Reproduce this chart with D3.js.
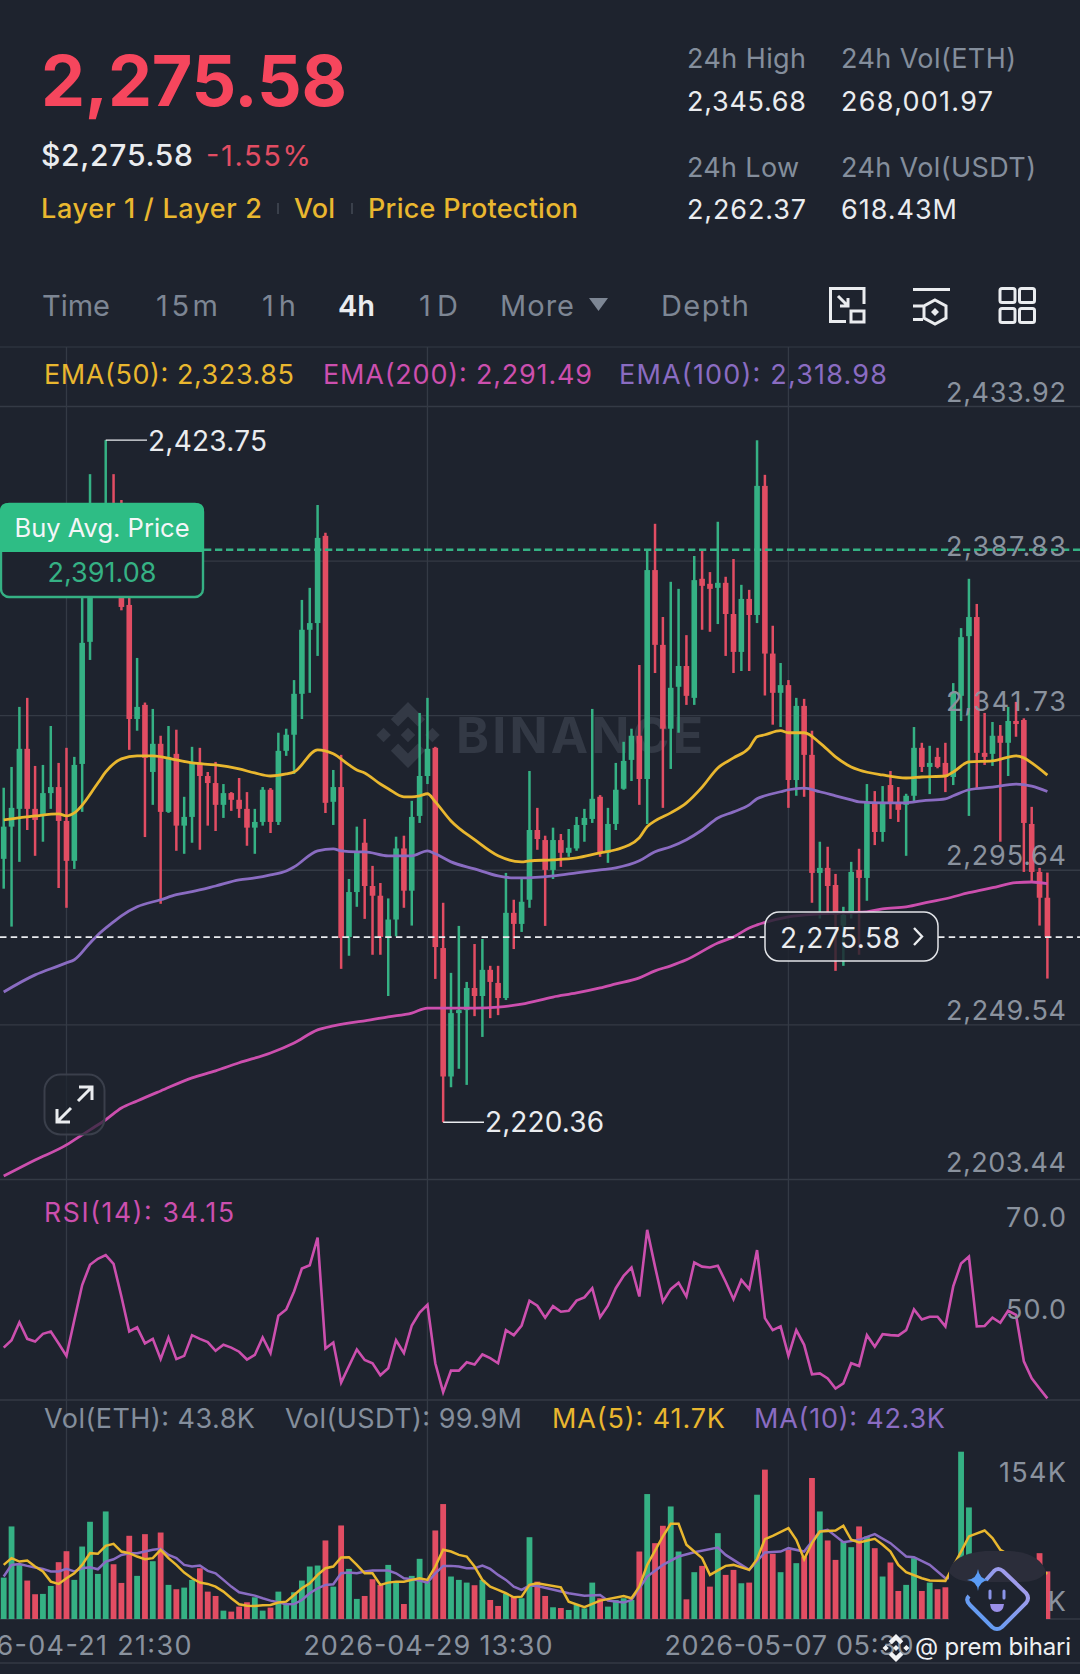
<!DOCTYPE html>
<html>
<head>
<meta charset="utf-8">
<script src="https://cdn.jsdelivr.net/npm/d3@7"></script>
<style>
	html, body { margin: 0; padding: 0; background: #1e232e; }
	svg { display: block; }
	text { font-family: Inter, "Noto Sans", sans-serif; }
	.axis path { display: none; }
	.grid line { stroke: #343a45; stroke-width: 1.3; }
	.grid text { display: none; }
	.labels line { display: none; }
	.labels text { fill: #8a929e; font-size: 27px; font-family: Inter, sans-serif; }
</style>
</head>
<body>
<div id="chart"></div>
<script>
// candles, one entry per 4h bar
const candleOpen = [
	2298.9,2308.5,2313.8,2331.7,2313.8,2312.0,2318.5,2320.3,2310.2,2298.3,
	2327.2,2363.6,2385.0,2385.0,2400.0,2397.0,2374.6,2340.6,2344.8,2324.8,
	2333.2,2312.9,2330.2,2308.8,2311.4,2327.5,2323.6,2321.5,2315.0,2318.5,
	2316.5,2313.8,2308.2,2309.9,2319.5,2309.9,2331.1,2335.9,2348.1,2367.2,
	2369.2,2395.2,2315.9,2320.3,2275.6,2289.0,2303.7,2290.8,2287.9,2275.6,
	2280.8,2302.0,2289.4,2311.7,2323.6,2332.0,2272.3,2234.0,2252.9,2253.8,
	2260.4,2258.0,2265.8,2261.9,2257.4,2282.8,2279.5,2286.7,2307.5,2304.5,
	2295.6,2304.5,2300.7,2302.0,2309.0,2310.8,2317.4,2300.7,2309.3,2319.8,
	2328.4,2335.6,2322.7,2385.0,2362.7,2337.7,2350.2,2356.4,2346.9,2382.4,
	2380.9,2379.7,2381.2,2371.9,2360.6,2376.4,2371.6,2410.1,2360.1,2348.4,
	2350.7,2322.4,2344.5,2329.9,2294.7,2296.2,2291.1,2279.0,2282.8,2295.6,
	2293.2,2315.6,2306.9,2320.9,2315.6,2315.0,2317.7,2332.0,2326.3,2329.3,
	2327.5,2323.3,2347.5,2365.3,2371.0,2330.5,2330.2,2335.6,2333.5,2340.0,
	2340.3,2309.3,2295.0,2287.3];
const candleHigh = [
	2320.1,2326.3,2344.2,2346.9,2326.6,2326.9,2338.5,2327.5,2332.0,2329.3,
	2379.1,2413.6,2397.0,2423.75,2413.6,2405.9,2376.7,2358.8,2345.5,2343.6,
	2335.6,2338.5,2337.4,2317.4,2332.3,2332.0,2324.8,2327.8,2321.2,2318.8,
	2323.0,2318.8,2313.8,2320.3,2320.0,2336.5,2337.7,2352.2,2376.1,2379.7,
	2404.4,2396.1,2325.4,2329.9,2292.9,2308.5,2310.8,2296.8,2291.7,2287.1,
	2305.5,2305.8,2316.2,2342.4,2346.9,2332.3,2285.8,2264.9,2278.9,2262.2,
	2273.5,2275.0,2267.0,2267.0,2294.7,2286.7,2292.9,2325.1,2314.1,2305.8,
	2308.2,2306.3,2307.8,2311.4,2313.8,2343.6,2317.9,2314.1,2327.5,2333.8,
	2337.7,2356.7,2391.0,2398.8,2371.0,2381.5,2379.4,2365.6,2389.2,2390.7,
	2384.4,2399.4,2383.0,2388.3,2380.6,2379.1,2423.7,2413.4,2368.4,2357.3,
	2352.2,2346.9,2346.6,2337.1,2304.0,2302.5,2294.4,2284.6,2298.0,2301.9,
	2321.2,2319.1,2320.6,2325.1,2320.3,2318.3,2338.2,2333.5,2332.6,2332.0,
	2333.5,2351.3,2367.7,2382.4,2374.9,2342.4,2339.7,2338.8,2344.2,2345.7,
	2340.8,2314.4,2296.2,2294.8];
const candleLow = [
	2290.0,2278.7,2298.0,2307.5,2299.8,2304.0,2313.8,2290.2,2284.3,2295.9,
	2312.9,2358.2,2382.0,2380.0,2383.6,2373.0,2331.4,2337.1,2305.4,2315.0,
	2285.5,2312.6,2301.3,2300.4,2303.7,2301.6,2308.8,2307.2,2311.1,2313.2,
	2311.1,2302.8,2300.4,2308.8,2306.6,2309.0,2329.6,2324.2,2340.6,2348.4,
	2359.4,2312.6,2309.0,2266.1,2270.0,2284.6,2281.0,2270.3,2270.3,2258.0,
	2275.8,2284.3,2279.0,2309.6,2321.2,2263.1,2220.36,2230.8,2236.3,2231.5,
	2252.0,2245.8,2251.4,2252.3,2256.8,2272.0,2277.1,2284.3,2301.6,2278.9,
	2292.9,2296.5,2299.5,2301.3,2304.0,2309.6,2299.5,2297.7,2307.5,2319.5,
	2322.1,2315.0,2309.3,2354.3,2314.1,2325.7,2336.5,2344.8,2344.8,2367.2,
	2366.6,2368.9,2359.4,2354.3,2354.9,2354.9,2369.2,2347.6,2338.9,2338.2,
	2314.1,2317.7,2317.4,2285.8,2281.1,2282.3,2265.5,2267.0,2281.1,2270.3,
	2286.4,2303.0,2304.0,2310.8,2309.9,2299.8,2315.6,2324.8,2318.2,2325.9,
	2318.8,2320.9,2340.0,2311.7,2320.0,2326.9,2326.6,2304.0,2323.6,2335.3,
	2295.0,2292.0,2279.0,2263.2];
const candleClose = [
	2308.5,2314.1,2331.7,2313.8,2310.5,2318.5,2320.3,2310.2,2298.3,2326.9,
	2363.3,2379.1,2394.0,2400.0,2389.0,2374.0,2340.6,2344.2,2329.0,2333.2,
	2312.9,2329.3,2308.8,2311.4,2327.8,2323.6,2321.5,2315.0,2318.5,2316.5,
	2313.8,2308.2,2309.9,2319.5,2309.9,2331.1,2335.9,2348.1,2367.2,2369.2,
	2394.6,2315.6,2320.3,2275.3,2289.0,2301.0,2290.8,2287.9,2275.6,2280.8,
	2302.0,2289.4,2311.4,2323.6,2331.7,2272.6,2234.0,2252.9,2253.8,2260.4,
	2258.0,2265.8,2262.2,2257.4,2282.8,2279.5,2286.1,2307.5,2304.8,2295.6,
	2304.5,2300.7,2302.2,2309.0,2311.1,2316.8,2300.7,2309.3,2319.5,2328.1,
	2335.6,2322.7,2385.0,2362.7,2337.7,2349.9,2356.4,2347.5,2382.0,2380.3,
	2379.4,2381.2,2371.9,2360.6,2376.4,2371.6,2410.1,2360.1,2348.4,2350.7,
	2322.4,2344.5,2329.9,2294.7,2296.2,2290.8,2282.2,2282.2,2295.0,2293.2,
	2315.6,2306.9,2315.9,2315.6,2313.5,2317.7,2332.0,2326.3,2327.5,2326.3,
	2323.3,2348.4,2365.0,2371.0,2330.5,2329.3,2335.6,2333.5,2340.0,2339.1,
	2309.6,2295.0,2287.3,2275.58];

// moving averages: bar index and value at the vertices that could be read
const ema50Idx = [0,4,7,8,9,12,13,15,17,19,22,24,27,30,32,34,36,37,40,42,44,45,46,48,49,51,52,53,54,55,57,60,63,66,67,70,73,76,78,81,82,83,85,87,89,91,93,95,96,97,99,100,102,104,106,108,109,112,115,117,120,121,123,126,129,130,131,133];
const ema50Val = [2310.5,2311.7,2312.3,2311.7,2312.6,2321.5,2324.8,2328.7,2329.6,2329.6,2328.4,2327.5,2326.9,2325.7,2324.5,2323.6,2324.2,2324.8,2331.4,2330.2,2326.9,2325.4,2324.5,2321.2,2319.8,2317.4,2317.4,2317.7,2318.3,2315.9,2310.2,2304.6,2299.8,2298.0,2298.3,2298.6,2299.2,2300.7,2301.6,2305.2,2308.5,2310.2,2312.6,2315.6,2320.3,2326.0,2329.0,2332.0,2335.3,2335.9,2337.1,2336.5,2336.5,2333.5,2329.3,2326.3,2325.4,2323.9,2323.0,2323.3,2323.6,2324.8,2327.8,2328.1,2329.6,2329.0,2327.5,2323.85];
const ema100Idx = [0,4,7,8,9,11,12,14,15,17,20,22,24,27,30,32,34,36,37,40,42,43,45,46,49,52,54,55,57,60,63,65,66,70,73,76,78,81,83,85,87,89,91,93,95,96,97,99,100,102,104,106,108,109,112,115,117,120,121,123,126,129,131,133];
const ema100Val = [2259.2,2264.3,2267.0,2267.9,2268.8,2273.8,2276.2,2280.1,2281.9,2284.6,2286.7,2288.2,2289.1,2290.8,2292.6,2293.2,2294.1,2295.3,2296.5,2301.3,2301.9,2301.3,2301.0,2301.0,2299.8,2299.8,2301.3,2300.4,2298.0,2295.9,2293.8,2293.2,2293.2,2293.8,2294.7,2295.6,2296.2,2298.3,2301.0,2302.5,2304.6,2307.5,2311.1,2312.9,2315.0,2316.8,2317.7,2318.9,2319.5,2320.0,2318.9,2317.7,2316.5,2315.9,2315.6,2315.6,2316.2,2316.8,2317.7,2319.5,2320.3,2321.2,2320.6,2318.98];
const ema200Idx = [0,4,8,9,11,13,15,17,20,24,27,30,34,37,40,42,45,46,49,52,54,57,60,63,66,70,73,76,78,81,83,85,87,91,93,95,96,100,104,110,112,115,118,120,123,126,129,131,133];
const ema200Val = [2204.3,2209.1,2213.6,2215.1,2218.1,2221.1,2224.6,2226.7,2229.7,2233.6,2235.7,2238.1,2241.0,2244.0,2247.9,2249.1,2250.3,2250.6,2251.8,2252.9,2254.4,2254.4,2254.4,2254.7,2255.6,2257.7,2258.9,2260.4,2261.6,2263.4,2265.5,2267.0,2268.8,2273.8,2275.6,2278.3,2279.2,2281.6,2282.5,2283.1,2284.0,2284.6,2286.1,2287.0,2288.8,2290.3,2291.8,2292.0,2291.49];

const rsiVal = [
	45.2,46.8,50.7,47.1,46.5,48.2,48.7,46.1,43.4,51.2,
	58.8,63.2,64.5,65.3,63.4,56.3,48.7,49.6,46.1,47.1,
	42.7,47.4,42.7,43.4,47.9,47.1,46.4,44.5,45.8,45.2,
	44.3,42.6,43.6,47.4,44.0,52.1,53.5,57.4,62.4,63.1,
	69.1,45.0,46.3,37.6,41.2,44.8,42.5,41.8,39.2,40.7,
	46.8,44.0,50.0,52.8,54.5,41.8,35.5,40.2,40.2,42.0,
	41.5,43.7,42.9,41.8,49.0,47.9,50.0,55.4,54.3,51.7,
	54.2,53.0,53.2,55.4,56.1,58.1,51.8,54.3,58.1,60.8,
	62.6,56.3,70.8,62.8,55.2,57.9,59.3,56.3,63.7,62.8,
	62.6,63.0,59.5,55.7,59.9,57.9,66.4,51.6,49.0,49.8,
	43.4,49.0,45.8,39.4,39.6,38.5,36.3,37.4,41.8,41.2,
	47.9,45.4,48.1,47.9,47.8,49.0,53.5,51.3,51.9,51.9,
	49.8,58.5,63.5,65.0,49.8,49.9,51.7,50.6,53.2,52.3,
	42.2,38.5,36.3,34.15];

// volume in thousands of ETH
const volumeVal = [
	38.1,85.2,49.8,35.4,22.8,23.1,30.4,52.3,62.4,36.0,
	66.7,89.5,41.5,99.0,50.4,33.2,76.6,39.7,78.1,53.2,
	79.6,31.4,27.4,28.9,36.0,46.7,25.2,21.2,7.7,6.8,
	11.4,15.4,20.0,7.7,10.5,25.2,14.5,24.6,35.4,48.3,
	49.2,72.3,29.8,86.1,46.1,18.5,21.2,36.6,31.4,49.8,
	34.4,13.8,39.7,55.4,34.4,81.5,105.8,39.1,36.0,33.5,
	31.1,36.0,17.5,12.0,23.1,20.6,19.1,75.3,34.4,21.2,
	10.8,10.1,8.3,12.9,9.8,33.5,19.1,11.4,17.5,19.1,
	17.5,62.1,115.0,69.8,85.8,103.6,62.1,18.1,43.1,48.9,
	29.8,79.0,40.6,45.2,32.9,33.5,114.4,137.5,60.0,43.1,
	63.7,51.4,57.5,129.8,99.0,72.3,54.4,71.3,66.1,85.2,
	76.0,65.2,39.1,52.0,25.8,31.4,56.0,25.8,33.5,27.4,
	29.2,45.0,154.0,102.7,50.0,60.0,55.0,50.0,45.0,48.0,
	52.0,40.0,60.6,43.8];
const ma5Idx = [0,1,2,3,4,5,6,7,8,9,10,11,12,13,14,15,16,17,18,19,20,21,22,23,24,25,26,27,28,29,30,31,32,33,34,35,36,37,38,39,40,41,42,43,44,45,46,47,48,49,50,51,52,53,54,55,56,57,58,59,60,61,62,63,64,65,66,67,68,71,72,74,76,79,80,81,82,84,85,86,87,88,89,90,92,93,95,96,97,98,100,101,102,103,104,106,107,108,109,111,112,113,114,115,117,118,120,122,123,125,126,127,130,133];
const ma5Val = [49.8,56.0,52.9,53.8,48.3,43.7,34.4,32.3,37.5,42.1,49.8,60.6,60.0,67.3,69.2,62.1,60.6,57.5,55.0,56.0,63.7,56.0,49.8,42.7,37.5,33.5,32.3,29.8,25.2,19.1,13.5,12.3,12.0,12.6,12.9,15.1,16.0,22.1,28.3,32.9,40.6,46.7,48.3,56.6,56.9,49.8,42.1,42.1,31.4,33.5,34.4,34.4,36.0,37.5,36.0,48.3,63.7,62.1,59.0,57.5,48.3,36.0,29.8,26.8,23.7,20.0,20.6,31.4,32.9,29.2,16.0,10.8,16.9,21.2,19.1,29.8,49.8,76.0,87.6,87.6,68.3,62.1,56.0,40.6,48.9,49.8,45.2,55.0,73.5,76.6,83.6,72.9,55.0,69.8,80.6,81.5,85.8,72.9,70.4,73.8,68.3,62.1,49.8,43.1,37.5,35.4,35.1,62.1,76.0,81.5,74.4,63.7,51.4,41.7];
const ma10Idx = [0,1,2,3,4,5,6,7,8,9,10,11,12,13,14,15,16,17,18,19,20,21,22,23,24,25,26,27,28,29,30,31,32,33,34,35,36,37,38,39,40,41,42,43,44,45,46,47,48,49,50,51,52,53,54,55,56,57,58,59,60,61,62,63,64,65,66,67,68,72,74,76,77,79,80,82,84,86,88,91,92,94,95,97,99,100,102,104,105,107,109,111,113,115,116,118,120,133];
const ma10Val = [39.1,49.8,50.7,48.9,47.4,46.1,43.7,43.7,46.1,43.7,46.7,47.7,45.8,52.9,55.0,59.0,60.6,60.6,62.1,63.7,64.6,59.0,56.0,49.8,48.3,49.2,44.3,42.1,36.0,29.8,24.6,23.1,21.5,19.1,16.9,15.4,13.5,13.8,17.5,23.7,28.3,31.4,32.0,42.1,42.7,42.1,43.7,44.6,44.6,44.6,42.1,37.5,36.6,35.4,33.5,42.1,48.9,48.9,48.3,46.7,46.7,49.2,46.1,40.6,36.0,29.8,26.8,30.8,30.4,23.7,21.5,22.1,16.9,15.1,17.5,39.1,49.8,57.5,61.5,65.8,59.0,49.8,45.2,61.2,62.1,65.2,62.1,80.6,82.1,70.7,72.9,78.1,69.8,57.5,56.9,49.8,37.5,42.3];

const priceTicks = [2433.92,2387.83,2341.73,2295.64,2249.54,2203.44];
const rsiTicks = [70,50];
const dateBars = [8,54,100];
const dateLabels = ["2026-04-21 21:30","2026-04-29 13:30","2026-05-07 05:30"];
const lastPrice = 2275.58, buyAvg = 2391.08, maxHigh = 2423.75, minLow = 2220.36;

const bg = "#1e232e", up = "#35b184", down = "#e24d63", gold = "#e9b72f",
	pink = "#cc4fae", purple = "#8a6cc2", grey = "#848e9c", white = "#eaecef";

const svg = d3.select("#chart").append("svg").attr("width", 1080).attr("height", 1674);

// scales
const x = d3.scaleLinear().domain([0, 133]).range([3.7, 1047.4]);
const yPrice = d3.scaleLinear().domain([2433.92, 2203.44]).range([406, 1179]);
const yRsi = d3.scaleLinear().domain([70, 50]).range([1233.5, 1325.5]);
const yVol = d3.scaleLinear().domain([0, 154]).range([1619, 1451.7]);

// w stretches the text to the width it has in the picture, the font there is a bit wider
function label(t, px, py, size, color, weight, anchor, w) {
	const s = svg.append("text").attr("x", px).attr("y", py)
		.attr("font-size", size).attr("fill", color)
		.attr("font-weight", weight || 400)
		.attr("text-anchor", anchor || "start").text(t);
	if (w) s.attr("textLength", w);
	return s;
}

// header
label("2,275.58", 41, 106, 70, "#f6465d", 700, "start", 306);
label("$2,275.58", 41, 166, 30, white, 500, "start", 152);
label("-1.55%", 206, 166, 29, "#e24d63", 400, "start", 105);
label("Layer 1 / Layer 2", 41, 218, 27, gold, 500, "start", 221);
label("Vol", 294, 218, 27, gold, 500, "start", 41);
label("Price Protection", 368, 218, 27, gold, 500, "start", 210);
[278, 352].forEach(function(d) {
	svg.append("line").attr("x1", d).attr("x2", d).attr("y1", 203).attr("y2", 214)
		.attr("stroke", "#3a404b").attr("stroke-width", 2);
});
label("24h High", 687, 68, 27, grey, 400, "start", 119);
label("24h Vol(ETH)", 841, 68, 27, grey, 400, "start", 175);
label("2,345.68", 687, 111, 27, white, 400, "start", 119);
label("268,001.97", 841, 111, 27, white, 400, "start", 152);
label("24h Low", 687, 177, 27, grey, 400, "start", 112);
label("24h Vol(USDT)", 841, 177, 27, grey, 400, "start", 195);
label("2,262.37", 687, 219, 27, white, 400, "start", 119);
label("618.43M", 841, 219, 27, white, 400, "start", 116);

// tabs
const tabs = [["Time",42,68],["15m",156,62],["1h",262,34],["4h",338,37],["1D",419,39],["More",500,74],["Depth",661,88]];
tabs.forEach(function(d) {
	label(d[0], d[1], 316, 29, d[0] == "4h" ? white : "#7d8694", d[0] == "4h" ? 600 : 400, "start", d[2]);
});
svg.append("path").attr("d", "M589 298H608L598.5 311Z").attr("fill", "#7d8694");

// toolbar icons
const icons = svg.append("g").attr("fill", "none").attr("stroke", white).attr("stroke-width", 3);
icons.append("path").attr("d", "M864 304V288.5H830.5V321.5H846");
icons.append("rect").attr("x", 851).attr("y", 311).attr("width", 13).attr("height", 11);
icons.append("path").attr("d", "M838 296L848 306M848 298V306H840");
icons.append("path").attr("d", "M913 289.5H950M913 306H923M913 319.5H923");
icons.append("path").attr("d", "M935 300L946 306V318L935 324L924 318V306Z");
icons.append("path").attr("d", "M935 308L939 312L935 316L931 312Z").attr("fill", white).attr("stroke", "none");
[[1000,288.5],[1019.5,288.5],[1000,308.5],[1019.5,308.5]].forEach(function(d) {
	icons.append("rect").attr("x", d[0]).attr("y", d[1]).attr("width", 15).attr("height", 14).attr("rx", 2);
});

// grid lines
svg.append("line").attr("x1", 0).attr("x2", 1080).attr("y1", 347).attr("y2", 347).attr("stroke", "#2d333e").attr("stroke-width", 1.5);
svg.append("g").attr("class", "axis grid").attr("transform", "translate(1080,0)")
	.call(d3.axisLeft(yPrice).tickValues(priceTicks).tickSize(1080));
[1400, 1619, 1663].forEach(function(d) {
	svg.append("line").attr("x1", 0).attr("x2", 1080).attr("y1", d).attr("y2", d).attr("stroke", "#343a45").attr("stroke-width", 1.3);
});
svg.selectAll(".vgrid").data(dateBars).enter().append("line").attr("class", "vgrid")
	.attr("x1", function(d) { return x(d) }).attr("x2", function(d) { return x(d) })
	.attr("y1", 347).attr("y2", 1619).attr("stroke", "#343a45").attr("stroke-width", 1.3);

function logo(g, cx, cy, s, color) {
	const shapes = [
		[[0,-1],[.52,-.48],[.3,-.26],[0,-.56],[-.3,-.26],[-.52,-.48]],
		[[0,1],[.52,.48],[.3,.26],[0,.56],[-.3,.26],[-.52,.48]],
		[[0,-.22],[.22,0],[0,.22],[-.22,0]],
		[[-.74,-.22],[-.52,0],[-.74,.22],[-.96,0]],
		[[.74,-.22],[.96,0],[.74,.22],[.52,0]]
	];
	g.selectAll(null).data(shapes).enter().append("polygon")
		.attr("points", function(d) { return d.map(function(p) { return (cx + p[0] * s) + "," + (cy + p[1] * s) }).join(" ") })
		.attr("fill", color);
}

// watermark sits under the candles
logo(svg.append("g"), 408, 735, 33, "#333945");
label("BINANCE", 456, 753, 50, "#333945", 700, "start", 247);

// candles
const bars = d3.range(candleOpen.length);
svg.append("g").selectAll("line").data(bars).enter().append("line")
	.attr("x1", function(d) { return x(d) }).attr("x2", function(d) { return x(d) })
	.attr("y1", function(d) { return yPrice(candleHigh[d]) })
	.attr("y2", function(d) { return yPrice(candleLow[d]) })
	.attr("stroke", function(d) { return candleClose[d] >= candleOpen[d] ? up : down })
	.attr("stroke-width", 2.5);
svg.append("g").selectAll("rect").data(bars).enter().append("rect")
	.attr("x", function(d) { return x(d) - 2.8 })
	.attr("width", 5.6)
	.attr("y", function(d) { return yPrice(Math.max(candleOpen[d], candleClose[d])) })
	.attr("height", function(d) { return Math.max(1.5, Math.abs(yPrice(candleOpen[d]) - yPrice(candleClose[d]))) })
	.attr("fill", function(d) { return candleClose[d] >= candleOpen[d] ? up : down });

// EMA lines
const emaLine = d3.line().x(function(d) { return x(d[0]) }).y(function(d) { return yPrice(d[1]) }).curve(d3.curveMonotoneX);
[[ema50Idx, ema50Val, gold], [ema100Idx, ema100Val, purple], [ema200Idx, ema200Val, pink]].forEach(function(s) {
	svg.append("path").attr("d", emaLine(d3.zip(s[0], s[1])))
		.attr("fill", "none").attr("stroke", s[2]).attr("stroke-width", 2.8);
});

// high and low markers
[[13, maxHigh, 147, "2,423.75", 11], [56, minLow, 484, "2,220.36", 10]].forEach(function(d) {
	svg.append("line").attr("x1", x(d[0])).attr("x2", d[2]).attr("y1", yPrice(d[1])).attr("y2", yPrice(d[1]))
		.attr("stroke", white).attr("stroke-width", 1.3);
	label(d[3], d[2] + 1, yPrice(d[1]) + d[4], 28, white, 400, "start", 119);
});

// buy average line and tag
svg.append("line").attr("x1", 204).attr("x2", 1080).attr("y1", yPrice(buyAvg)).attr("y2", yPrice(buyAvg))
	.attr("stroke", up).attr("stroke-width", 2.4).attr("stroke-dasharray", "7.3 3.7");
svg.append("rect").attr("x", 1).attr("y", 504).attr("width", 202).attr("height", 93).attr("rx", 8)
	.attr("fill", bg).attr("stroke", up).attr("stroke-width", 2.4);
svg.append("path").attr("d", "M0 552V511Q0 503 8 503H196Q204 503 204 511V552Z").attr("fill", "#2ebd85");
label("Buy Avg. Price", 102, 537, 25.5, "#f4f6f8", 400, "middle");
label("2,391.08", 102, 582, 27, up, 400, "middle", 109);

// last price line and tag
const lastY = yPrice(lastPrice);
[[0, 765], [938, 1080]].forEach(function(d) {
	svg.append("line").attr("x1", d[0]).attr("x2", d[1]).attr("y1", lastY).attr("y2", lastY)
		.attr("stroke", white).attr("stroke-width", 1.8).attr("stroke-dasharray", "6.5 4.2");
});
svg.append("rect").attr("x", 765).attr("y", 912).attr("width", 173).attr("height", 49).attr("rx", 14)
	.attr("fill", bg).attr("fill-opacity", .82).attr("stroke", "#e2e4e8").attr("stroke-width", 1.5);
label("2,275.58", 780, 948, 28, white, 400, "start", 120);
svg.append("path").attr("d", "M914 928L922 936.5L914 945").attr("fill", "none").attr("stroke", white).attr("stroke-width", 2.4);

// expand button
svg.append("rect").attr("x", 44.5).attr("y", 1074.5).attr("width", 60).attr("height", 60).attr("rx", 16)
	.attr("fill", bg).attr("fill-opacity", .7).attr("stroke", "#3a3f4b").attr("stroke-width", 2);
svg.append("path").attr("d", "M78 1101L91 1088M79 1087H92V1100M71 1108L58 1121M57 1109V1122H70")
	.attr("fill", "none").attr("stroke", white).attr("stroke-width", 3);

// RSI
const rsiLine = d3.line().x(function(d, i) { return x(i) }).y(function(d) { return yRsi(d) });
svg.append("path").attr("d", rsiLine(rsiVal)).attr("fill", "none").attr("stroke", pink).attr("stroke-width", 2.6);

// volume bars and averages
svg.append("g").selectAll("rect").data(bars).enter().append("rect")
	.attr("x", function(d) { return x(d) - 2.9 }).attr("width", 5.8)
	.attr("y", function(d) { return yVol(volumeVal[d]) })
	.attr("height", function(d) { return yVol(0) - yVol(volumeVal[d]) })
	.attr("fill", function(d) { return candleClose[d] >= candleOpen[d] ? up : down });
const maLine = d3.line().x(function(d) { return x(d[0]) }).y(function(d) { return yVol(d[1]) });
[[ma10Idx, ma10Val, purple], [ma5Idx, ma5Val, gold]].forEach(function(s) {
	svg.append("path").attr("d", maLine(d3.zip(s[0], s[1])))
		.attr("fill", "none").attr("stroke", s[2]).attr("stroke-width", 2.5);
});

// assistant button covers the end of the volume pane
svg.append("rect").attr("x", 949).attr("y", 1565).attr("width", 97).attr("height", 62).attr("fill", bg);
svg.append("path").attr("d", "M949 1572Q952 1554 985 1551H1010Q1040 1553 1046 1572Q1040 1582 1020 1582H975Q955 1582 949 1572Z").attr("fill", "#2b2d3a");
const grad = svg.append("defs").append("linearGradient").attr("id", "face").attr("x1", 0).attr("x2", 1).attr("y1", 1).attr("y2", 0);
grad.append("stop").attr("offset", 0).attr("stop-color", "#4f9cf5");
grad.append("stop").attr("offset", 1).attr("stop-color", "#b59be8");
svg.append("path").attr("d", "M986 1580L994 1571Q998 1567 1003 1571L1026 1593Q1030 1598 1026 1603L1002 1627Q997 1631 992 1627L970 1605Q965 1600 969 1596")
	.attr("fill", "none").attr("stroke", "url(#face)").attr("stroke-width", 4);
svg.append("path").attr("d", "M978 1569Q979 1579 989 1580Q979 1581 978 1591Q977 1581 967 1580Q977 1579 978 1569Z").attr("fill", "#5a9cf6");
svg.append("path").attr("d", "M990 1591V1598M1004 1591V1598").attr("stroke", "#8a94e8").attr("stroke-width", 3).attr("stroke-linecap", "round");
svg.append("path").attr("d", "M990 1604H1004Q1003 1612 997 1612Q991 1612 990 1604Z").attr("fill", "#9a8fe8");

// legends
label("EMA(50): 2,323.85", 44, 384, 27, gold, 400, "start", 250);
label("EMA(200): 2,291.49", 323, 384, 27, pink, 400, "start", 269);
label("EMA(100): 2,318.98", 619, 384, 27, purple, 400, "start", 268);
label("RSI(14): 34.15", 44, 1222, 26.5, pink, 400, "start", 190);
label("Vol(ETH): 43.8K", 44, 1428, 27, grey, 400, "start", 211);
label("Vol(USDT): 99.9M", 285, 1428, 27, grey, 400, "start", 237);
label("MA(5): 41.7K", 552, 1428, 27, gold, 400, "start", 173);
label("MA(10): 42.3K", 754, 1428, 27, purple, 400, "start", 191);

// axis labels drawn over the marks
const priceAxis = svg.append("g").attr("class", "axis labels").attr("transform", "translate(1066,0)")
	.call(d3.axisLeft(yPrice).tickValues(priceTicks).tickSize(0).tickPadding(0).tickFormat(d3.format(",.2f")));
priceAxis.selectAll("text").attr("dy", function(d) { return d == 2203.44 ? "-8px" : "-5px" })
	.attr("text-anchor", "end").attr("textLength", 120);
const rsiAxis = svg.append("g").attr("class", "axis labels").attr("transform", "translate(1066,0)")
	.call(d3.axisLeft(yRsi).tickValues(rsiTicks).tickSize(0).tickPadding(0).tickFormat(d3.format(".1f")));
rsiAxis.selectAll("text").attr("dy", "-7px").attr("textLength", 60);
label("154K", 1066, 1482, 27, "#8a929e", 400, "end", 67);
label("K", 1066, 1611, 27, "#8a929e", 400, "end");
const dateAxis = svg.append("g").attr("class", "axis labels").attr("transform", "translate(0,1655)")
	.call(d3.axisBottom(x).tickValues(dateBars).tickSize(0).tickPadding(0).tickFormat(function(d, i) { return dateLabels[i] }));
dateAxis.selectAll("text").attr("dy", "0").attr("y", 0).attr("textLength", 249);

// credit watermark
logo(svg.append("g"), 896, 1648, 14, "#f2f3f5");
label("@ prem bihari", 915, 1655, 24, "#eef0f3", 400, "start", 156);
</script>
</body>
</html>
